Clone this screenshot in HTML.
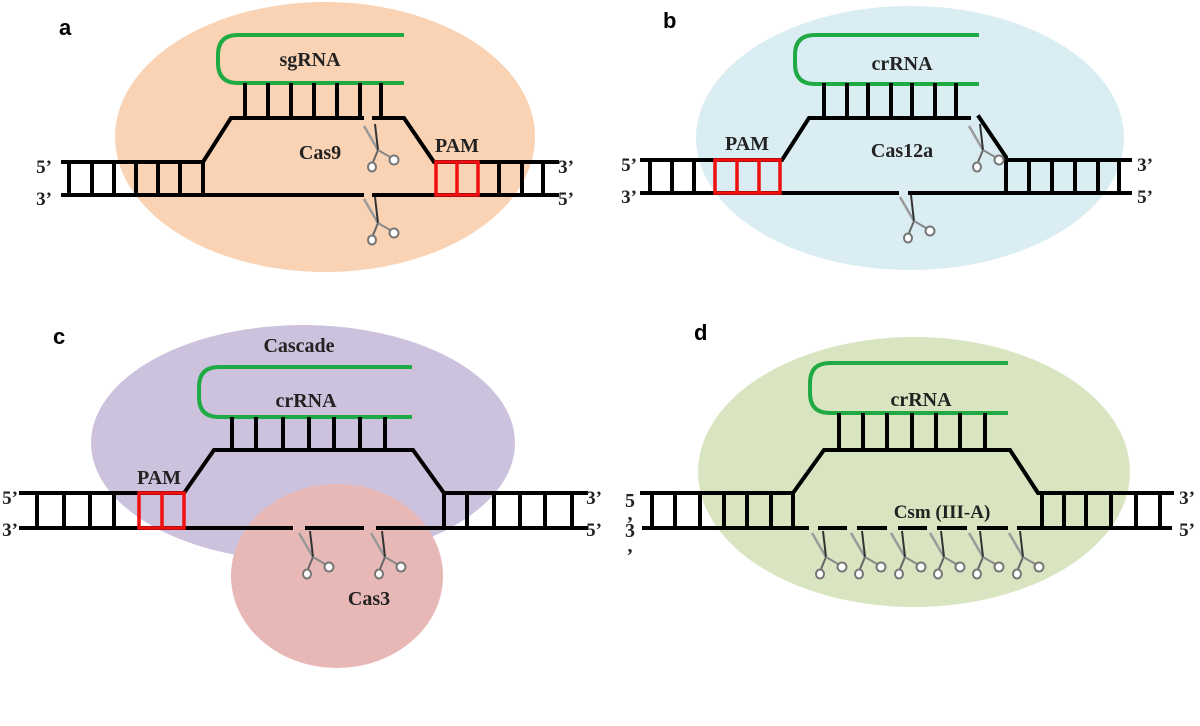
<!DOCTYPE html>
<html><head><meta charset="utf-8"><style>html,body{margin:0;padding:0;background:#fff}svg{display:block}</style></head>
<body>
<svg width="1200" height="726" viewBox="0 0 1200 726" xmlns="http://www.w3.org/2000/svg">
<defs>
<g id="sc">
<line x1="-14" y1="-24" x2="0" y2="0" stroke="#9a9a9a" stroke-width="2.5"/>
<line x1="-3" y1="-26" x2="0" y2="0" stroke="#333" stroke-width="2"/>
<line x1="0" y1="0" x2="-5" y2="12" stroke="#666" stroke-width="2"/>
<line x1="0" y1="0" x2="12" y2="7" stroke="#888" stroke-width="2"/>
<ellipse cx="-6" cy="17" rx="4" ry="4.5" fill="#fff" stroke="#777" stroke-width="2"/>
<ellipse cx="16" cy="10" rx="4.5" ry="4.5" fill="#fff" stroke="#777" stroke-width="2"/>
</g>
</defs>
<g font-family="Liberation Serif, serif" font-weight="bold" fill="#222">

<!-- Panel a -->
<ellipse cx="325" cy="137" rx="210" ry="135" fill="#f9d3b4"/>
<g fill="none" stroke-linecap="square">
<path d="M402 35 H238 Q218 35 218 55 V63 Q218 83 238 83 H402" stroke="#1faa44" stroke-width="4"/>
<g stroke="#000" stroke-width="4">
<path d="M63 162 H203 L231 118 H362"/>
<path d="M374 118 H404 L434 162 H557"/>
<path d="M63 195 H362 M374 195 H557"/>
<path d="M245 85V118 M268 85V118 M291 85V118 M314 85V118 M337 85V118 M360 85V118 M381 85V118"/>
<path d="M69 162V195 M92 162V195 M114 162V195 M136 162V195 M158 162V195 M180 162V195 M203 162V195"/>
<path d="M499 162V195 M522 162V195 M543 162V195"/>
</g>
<path d="M436 162 H478 V195 H436 Z M457 162 V195" stroke="#f01010" stroke-width="3.5"/>
</g>
<use href="#sc" x="378" y="150"/>
<use href="#sc" x="378" y="223"/>
<text x="310" y="66" font-size="20" text-anchor="middle">sgRNA</text>
<text x="320" y="159" font-size="20" text-anchor="middle">Cas9</text>
<text x="457" y="152" font-size="20" text-anchor="middle">PAM</text>
<text x="44" y="173" font-size="19" text-anchor="middle">5’</text>
<text x="44" y="205" font-size="19" text-anchor="middle">3’</text>
<text x="566" y="173" font-size="19" text-anchor="middle">3’</text>
<text x="566" y="205" font-size="19" text-anchor="middle">5’</text>

<!-- Panel b -->
<ellipse cx="910" cy="138" rx="214" ry="132" fill="#daedf3"/>
<g fill="none" stroke-linecap="square">
<path d="M977 35 H815 Q795 35 795 55 V64 Q795 84 815 84 H977" stroke="#1faa44" stroke-width="4"/>
<g stroke="#000" stroke-width="4">
<path d="M642 160 H782 L809 118 H969"/>
<path d="M979 117 L1006 157 V160 H1130"/>
<path d="M642 193 H897 M910 193 H1130"/>
<path d="M824 85V118 M847 85V118 M868 85V118 M891 85V118 M912 85V118 M935 85V118 M956 85V118"/>
<path d="M650 160V193 M672 160V193 M694 160V193"/>
<path d="M1006 160V193 M1029 160V193 M1052 160V193 M1075 160V193 M1098 160V193 M1119 160V193"/>
</g>
<path d="M715 160 H780 V193 H715 Z M737 160 V193 M759 160 V193" stroke="#f01010" stroke-width="3.5"/>
</g>
<use href="#sc" x="983" y="150"/>
<use href="#sc" x="914" y="221"/>
<text x="902" y="70" font-size="20" text-anchor="middle">crRNA</text>
<text x="902" y="157" font-size="20" text-anchor="middle">Cas12a</text>
<text x="747" y="150" font-size="20" text-anchor="middle">PAM</text>
<text x="629" y="171" font-size="19" text-anchor="middle">5’</text>
<text x="629" y="203" font-size="19" text-anchor="middle">3’</text>
<text x="1145" y="171" font-size="19" text-anchor="middle">3’</text>
<text x="1145" y="203" font-size="19" text-anchor="middle">5’</text>

<!-- Panel c -->
<ellipse cx="303" cy="443" rx="212" ry="118" fill="#cdc2dd"/>
<ellipse cx="337" cy="576" rx="106" ry="92" fill="#e8b8b6"/>
<g fill="none" stroke-linecap="square">
<path d="M410 367 H219 Q199 367 199 387 V397 Q199 417 219 417 H410" stroke="#1faa44" stroke-width="4"/>
<g stroke="#000" stroke-width="4">
<path d="M21 493 H184 L214 450 H413 L444 493 H586"/>
<path d="M21 528 H291 M307 528 H362 M378 528 H586"/>
<path d="M232 419V450 M256 419V450 M283 419V450 M309 419V450 M334 419V450 M360 419V450 M385 419V450"/>
<path d="M37 493V528 M64 493V528 M90 493V528 M114 493V528"/>
<path d="M444 493V528 M467 493V528 M494 493V528 M520 493V528 M545 493V528 M572 493V528"/>
</g>
<path d="M139 493 H184 V528 H139 Z M162 493 V528" stroke="#f01010" stroke-width="3.5"/>
</g>
<use href="#sc" x="313" y="557"/>
<use href="#sc" x="385" y="557"/>
<text x="299" y="352" font-size="20" text-anchor="middle">Cascade</text>
<text x="306" y="407" font-size="20" text-anchor="middle">crRNA</text>
<text x="159" y="484" font-size="20" text-anchor="middle">PAM</text>
<text x="369" y="605" font-size="20" text-anchor="middle">Cas3</text>
<text x="10" y="504" font-size="19" text-anchor="middle">5’</text>
<text x="10" y="536" font-size="19" text-anchor="middle">3’</text>
<text x="594" y="504" font-size="19" text-anchor="middle">3’</text>
<text x="594" y="536" font-size="19" text-anchor="middle">5’</text>

<!-- Panel d -->
<ellipse cx="914" cy="472" rx="216" ry="135" fill="#d9e5c1"/>
<g fill="none" stroke-linecap="square">
<path d="M1006 363 H830 Q810 363 810 383 V393 Q810 413 830 413 H1006" stroke="#1faa44" stroke-width="4"/>
<g stroke="#000" stroke-width="4">
<path d="M642 493 H793 L824 450 H1010 L1038 493 H1172"/>
<path d="M642 528 H809 M818 528 H847 M857 528 H887 M898 528 H927 M937 528 H967 M977 528 H1008 M1017 528 H1172" stroke-linecap="butt"/>
<path d="M839 415V450 M863 415V450 M887 415V450 M912 415V450 M936 415V450 M960 415V450 M985 415V450"/>
<path d="M652 493V528 M675 493V528 M700 493V528 M724 493V528 M747 493V528 M771 493V528 M793 493V528"/>
<path d="M1042 493V528 M1064 493V528 M1086 493V528 M1111 493V528 M1136 493V528 M1160 493V528"/>
</g>
</g>
<use href="#sc" x="826" y="557"/>
<use href="#sc" x="865" y="557"/>
<use href="#sc" x="905" y="557"/>
<use href="#sc" x="944" y="557"/>
<use href="#sc" x="983" y="557"/>
<use href="#sc" x="1023" y="557"/>
<text x="921" y="406" font-size="20" text-anchor="middle">crRNA</text>
<text x="942" y="518" font-size="19" text-anchor="middle">Csm (III-A)</text>
<text x="630" y="507" font-size="20" text-anchor="middle">5</text>
<text x="630" y="520" font-size="20" text-anchor="middle">,</text>
<text x="630" y="537" font-size="20" text-anchor="middle">3</text>
<text x="630" y="552" font-size="20" text-anchor="middle">,</text>
<text x="1187" y="504" font-size="19" text-anchor="middle">3’</text>
<text x="1187" y="536" font-size="19" text-anchor="middle">5’</text>
</g>

<g font-family="Liberation Sans, sans-serif" font-weight="bold" font-size="22" fill="#000">
<text x="59" y="35">a</text>
<text x="663" y="28">b</text>
<text x="53" y="344">c</text>
<text x="694" y="340">d</text>
</g>
</svg>
</body></html>
